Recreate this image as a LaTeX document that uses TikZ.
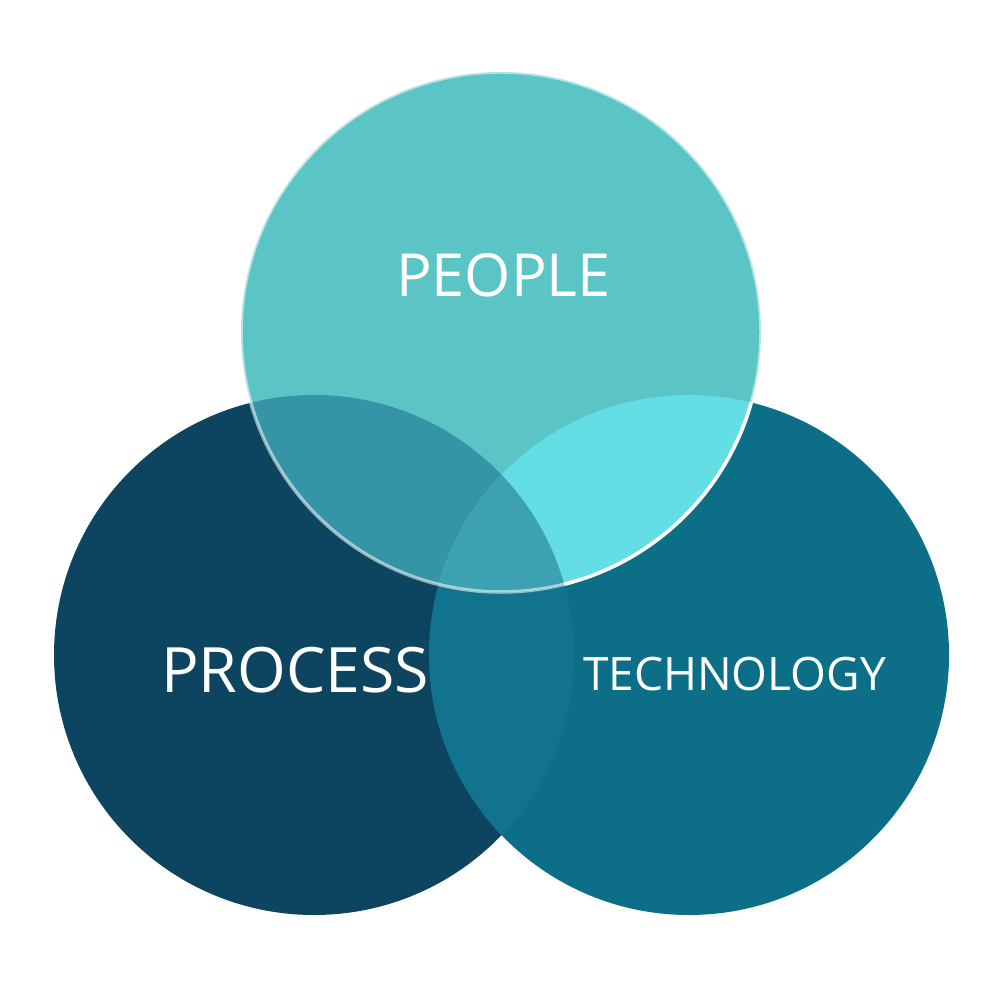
\documentclass[tikz,border=0pt]{standalone}
\usepackage{fontspec}
\setmainfont{Open Sans}
\usepackage{tikz}
\usetikzlibrary{positioning}
\definecolor{processblue}{RGB}{13,69,96}
\definecolor{techblue}{RGB}{13,111,135}
\definecolor{peopleteal}{RGB}{91,197,198}
\definecolor{peopleprocess}{RGB}{53,148,166}
\definecolor{peopletech}{RGB}{98,222,228}
\definecolor{processtech}{RGB}{18,115,143}
\definecolor{allthree}{RGB}{59,161,179}

\begin{document}
\begin{tikzpicture}[label/.style={text=white,inner sep=0pt}]
\fill[white] (0,0) rectangle (10,9.85);
\useasboundingbox (0,0) rectangle (10,9.85);
\coordinate (people) at (5.01,6.53);
\coordinate (process) at (3.14,3.30);
\coordinate (tech) at (6.89,3.30);
% Process and Technology
\fill[processblue] (process) circle (2.6);
\fill[techblue] (tech) circle (2.6);
\begin{scope}
\clip (process) circle (2.6);
\fill[processtech] (tech) circle (2.6);
\end{scope}
% People on top
\fill[peopleteal] (people) circle (2.6);
\begin{scope}
\clip (people) circle (2.6);
\fill[peopleprocess] (process) circle (2.6);
\fill[peopletech] (tech) circle (2.6);
\clip (process) circle (2.6);
\fill[allthree] (tech) circle (2.6);
\end{scope}
% Rim of People
\draw[white,opacity=0.55,line width=1pt] (people) circle (2.6);
\draw[white,line width=1pt] (people) ++(-75.9:2.6) arc (-75.9:-15.7:2.6);
% Labels
\node[label,font=\fontsize{16.9}{18}\selectfont] (peoplelabel) at (5.035,7.10) {PEOPLE};
\node[label,font=\fontsize{17.8}{19}\selectfont] (processlabel) at (2.95,3.15) {PROCESS};
\node[label,font=\fontsize{13.1}{15}\selectfont] (techlabel) at (7.345,3.105) {TECHNOLOGY};
\end{tikzpicture}
\end{document}
